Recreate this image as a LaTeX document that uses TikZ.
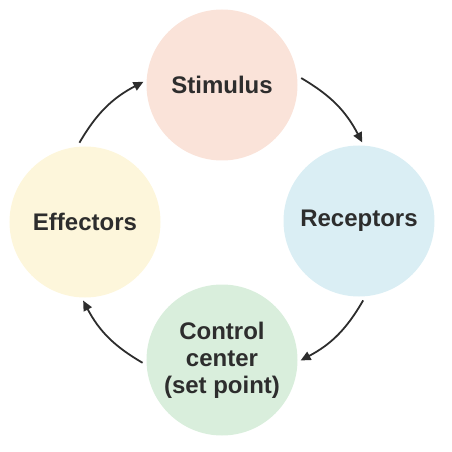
\documentclass[tikz,border=0pt]{standalone}
\usepackage{fontspec}
\setmainfont{Liberation Sans}
\usetikzlibrary{arrows.meta}
\definecolor{stimc}{HTML}{FAE3D9}
\definecolor{recc}{HTML}{DAEEF4}
\definecolor{effc}{HTML}{FDF6DB}
\definecolor{ctrlc}{HTML}{D9EEDC}
\definecolor{ink}{HTML}{2D2D2D}
\tikzset{
  bubble/.style={circle, minimum size=151pt, inner sep=0pt, outer sep=4pt,
    text=ink, align=center, font=\fontsize{24pt}{27pt}\selectfont\bfseries},
  cyc/.style={draw=ink, line width=1.8pt, -{Triangle[length=10pt,width=9pt]}, shorten >=-1pt}
}
\begin{document}
\begin{tikzpicture}[x=1pt,y=1pt]
\useasboundingbox (-222,-231) rectangle (229,221);
\node[bubble, fill=stimc] (stim) at (0,136) {Stimulus};
\node[bubble, fill=recc] (rec) at (137,0) {Receptors};
\node[bubble, fill=effc] (eff) at (-137,-1) {Effectors};
\node[bubble, fill=ctrlc] (ctrl) at (0,-139) {Control\\center\\(set point)};
\draw[cyc] (stim.5) to[bend left=16] (rec.88);
\draw[cyc] (rec.-87) to[bend left=16] (ctrl.0);
\draw[cyc] (ctrl.182) to[bend left=16] (eff.-91);
\draw[cyc] (eff.94) to[bend left=16] (stim.178);
\end{tikzpicture}
\end{document}
